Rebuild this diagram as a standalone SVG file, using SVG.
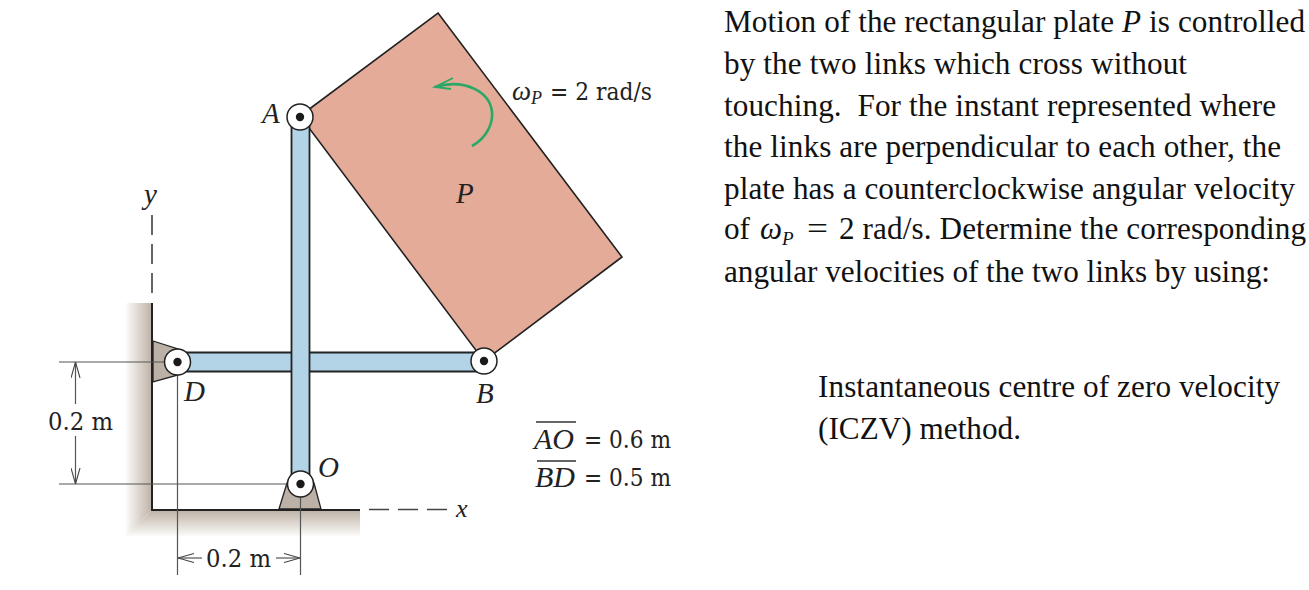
<svg xmlns="http://www.w3.org/2000/svg" width="1309" height="590" viewBox="0 0 1309 590">
<style>
.lab{font-family:"DejaVu Serif","Liberation Serif",serif;font-size:23.5px;fill:#222}
.it{font-family:"Liberation Serif",serif;font-style:italic;font-size:29px;fill:#222}
.txt{font-family:"Liberation Serif",serif;font-size:31.2px;fill:#111;white-space:pre}
.dim{stroke:#555;stroke-width:1.2;fill:none}
.link{fill:#b3d3e6;stroke:none}
.edge{stroke:#222;stroke-width:1.8;fill:none}
.pin{fill:#fff;stroke:#222;stroke-width:1.5}
.dot{fill:#1a1a1a}
</style>
<defs>
<linearGradient id="gw" x1="0" x2="1" y1="0" y2="0"><stop offset="0" stop-color="#fff"/><stop offset="0.2" stop-color="#f1eeea"/><stop offset="1" stop-color="#bdb1a6"/></linearGradient>
<linearGradient id="gf" x1="0" x2="0" y1="0" y2="1"><stop offset="0" stop-color="#bdb1a6"/><stop offset="0.8" stop-color="#f1eeea"/><stop offset="1" stop-color="#fff"/></linearGradient>
<marker id="op" viewBox="0 0 16 10" refX="16" refY="5" markerWidth="16" markerHeight="10" orient="auto" markerUnits="userSpaceOnUse"><path d="M0 0.500L16 5L0 9.500" fill="none" stroke="#444" stroke-width="1.1"/></marker>
</defs>

<g id="wall">
<polygon points="125,303 152,303 152,510 125,537" fill="url(#gw)"/>
<polygon points="152,510 360,510 360,537 125,537" fill="url(#gf)"/>
<path d="M152 303V510H360" fill="none" stroke="#222" stroke-width="2"/>
</g>

<g id="plate-P">
<polygon points="438,13 622,257 484,361 300,116" fill="#e3ab98" stroke="#222" stroke-width="1.600"/>
<text class="it" x="456" y="203">P</text>
</g>

<g id="mount-D"><path d="M153 341L178 349V375L153 382Z" fill="#bcb1a6" stroke="#222" stroke-width="1.300"/></g>
<g id="mount-O"><path d="M279 509L287 483H314L321 509Z" fill="#bcb1a6" stroke="#222" stroke-width="1.300"/></g>

<g id="link-DB">
<rect class="link" x="177" y="352" width="307" height="19.500"/>
<path class="edge" d="M177 352.500H292M310 352.500H484M177 371.500H292M310 371.500H484"/>
</g>
<g id="link-AO">
<rect class="link" x="291" y="116" width="19" height="368"/>
<path class="edge" d="M291.500 116V484M309.500 116V484"/>
</g>

<g id="connectors">
<path class="dim" d="M59 362H168M59 484H288M177.500 372V575M300.500 497V575"/>
<path class="dim" d="M75.500 404V362" marker-end="url(#op)"/>
<path class="dim" d="M75.500 436V484" marker-end="url(#op)"/>
<path class="dim" d="M202 558H178" marker-end="url(#op)"/>
<path class="dim" d="M276 558H300" marker-end="url(#op)"/>
<path d="M152 215V293" fill="none" stroke="#333" stroke-width="1.500" stroke-dasharray="20 9"/>
<path d="M369 509.500H447" fill="none" stroke="#444" stroke-width="1.500" stroke-dasharray="20 9"/>
<path d="M472 146C488 137 493 122 492 112C490 92 465 78 435 87" fill="none" stroke="#2aa866" stroke-width="2.600"/>
<path d="M453 78L435 87L451 89" fill="none" stroke="#2aa866" stroke-width="1.800"/>
<path d="M536 422H576M537 461H576" stroke="#333" stroke-width="1.300" fill="none"/>
</g>

<g id="pin-A"><circle class="pin" cx="300" cy="117" r="13"/><circle class="dot" cx="300" cy="117" r="4.200"/><text class="it" x="262" y="123">A</text></g>
<g id="pin-D"><circle class="pin" cx="177.500" cy="362" r="13"/><circle class="dot" cx="177.500" cy="362" r="4.200"/><text class="it" x="184" y="401">D</text></g>
<g id="pin-O"><circle class="pin" cx="300.500" cy="484" r="13"/><circle class="dot" cx="300.500" cy="484" r="4.200"/><text class="it" x="318" y="477">O</text></g>
<g id="pin-B"><circle class="pin" cx="484" cy="361" r="13"/><circle class="dot" cx="484" cy="361" r="4.200"/><text class="it" x="476" y="403">B</text></g>

<g id="labels">
<text class="it" x="144" y="204">y</text>
<text class="it" x="456" y="517" style="font-size:26px">x</text>
<text class="lab" x="48" y="430" textLength="65" lengthAdjust="spacingAndGlyphs">0.2 m</text>
<text class="lab" x="206" y="567" textLength="65" lengthAdjust="spacingAndGlyphs">0.2 m</text>
<text x="512" y="100" class="it" style="font-size:27px">ω<tspan font-size="18" dy="4">P</tspan></text>
<text class="lab" x="550" y="100" textLength="102" lengthAdjust="spacingAndGlyphs">= 2 rad/s</text>
<text class="it" x="534" y="449" style="font-size:30px">AO</text>
<text class="lab" x="584" y="448" textLength="87" lengthAdjust="spacingAndGlyphs">= 0.6 m</text>
<text class="it" x="535" y="487" style="font-size:30px">BD</text>
<text class="lab" x="584" y="486" textLength="87" lengthAdjust="spacingAndGlyphs">= 0.5 m</text>
</g>

<g id="problem-text">
<text class="txt" x="724" y="32" textLength="581">Motion of the rectangular plate <tspan font-style="italic">P</tspan> is controlled</text>
<text class="txt" x="724" y="74" textLength="463">by the two links which cross without</text>
<text class="txt" x="724" y="116" textLength="552">touching.  For the instant represented where</text>
<text class="txt" x="724" y="157" textLength="557">the links are perpendicular to each other, the</text>
<text class="txt" x="724" y="199" textLength="571">plate has a counterclockwise angular velocity</text>
<text class="txt" x="724" y="239">of</text>
<text class="txt" x="760" y="239" font-style="italic">ω</text>
<text class="txt" x="782" y="245" font-style="italic" style="font-size:19px">P</text>
<text class="txt" x="807" y="239" textLength="21" lengthAdjust="spacingAndGlyphs">=</text>
<text class="txt" x="839" y="239" textLength="467">2 rad/s. Determine the corresponding</text>
<text class="txt" x="724" y="282" textLength="546">angular velocities of the two links by using:</text>
<text class="txt" x="818" y="397" textLength="462">Instantaneous centre of zero velocity</text>
<text class="txt" x="818" y="439" textLength="203">(ICZV) method.</text>
</g>
</svg>
